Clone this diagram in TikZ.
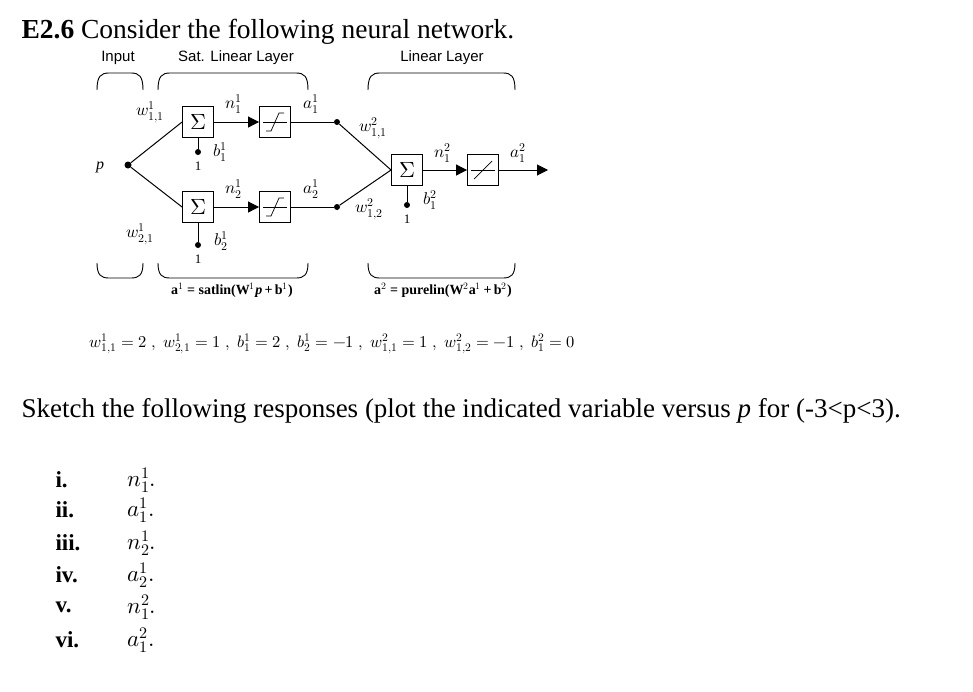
\documentclass[tikz,border=0pt]{standalone}
\usepackage{fontspec}
\setmainfont{Liberation Serif}
\setsansfont{Liberation Sans}
\usepackage{unicode-math}
\usetikzlibrary{arrows.meta}
\begin{document}
\begin{tikzpicture}[x=1pt,y=-1pt,
  box/.style={draw,line width=0.9pt,minimum size=31pt,inner sep=0pt},
  dot/.style={circle,fill,inner sep=0pt,minimum size=7pt},
  lbl/.style={font=\fontsize{17}{19}\selectfont,inner sep=0pt},
  wire/.style={line width=1pt},
  arr/.style={line width=1pt,-{Triangle[length=11pt,width=11pt]}},
  brace/.style={line width=0.9pt}]
\useasboundingbox (0,0) rectangle (973,691);
\node[anchor=west,font=\fontsize{27.5}{30}\selectfont] (title) at (18,32) {\textbf{E2.6} Consider the following neural network.};
\node[font=\sffamily\fontsize{15}{17}\selectfont] (tin) at (118,58) {Input};
\node[font=\sffamily\fontsize{15}{17}\selectfont] (tsat) at (236,58) {Sat. Linear Layer};
\node[font=\sffamily\fontsize{15}{17}\selectfont] (tlin) at (442,58) {Linear Layer};
% braces
\foreach \a/\b in {97/143,158/308,368/515}{
  \draw[brace] (\a,90) .. controls (\a,76) and (\a+4,73) .. (\a+12,73) -- (\b-12,73) .. controls (\b-4,73) and (\b,76) .. (\b,90);
  \draw[brace] (\a,263) .. controls (\a,275) and (\a+4,278) .. (\a+12,278) -- (\b-12,278) .. controls (\b-4,278) and (\b,275) .. (\b,263);
}
% nodes
\node[dot] (p) at (128,165) {};
\node[lbl,font=\itshape\fontsize{16}{18}\selectfont] (pl) at (100,167) {p};
\node[box] (s1) at (198,122) {\fontsize{22}{24}\selectfont$\Sigma$};
\node[box] (s2) at (198,207) {\fontsize{22}{24}\selectfont$\Sigma$};
\node[box] (f1) at (275,122) {};
\node[box] (f2) at (275,207) {};
\node[dot,minimum size=6pt] (a1) at (337,122) {};
\node[dot,minimum size=6pt] (a2) at (337,207) {};
\node[box] (s3) at (407,170) {\fontsize{22}{24}\selectfont$\Sigma$};
\node[box] (f3) at (483,170) {};
\coordinate (out) at (548,170);
\node[dot,minimum size=6pt] (b1) at (198,152) {};
\node[dot,minimum size=6pt] (b2) at (198,245) {};
\node[dot,minimum size=6pt] (b3) at (407,205) {};
\node[font=\fontsize{13}{15}\selectfont,inner sep=0pt] (o1) at (198,166) {1};
\node[font=\fontsize{13}{15}\selectfont,inner sep=0pt] (o2) at (198,259) {1};
\node[font=\fontsize{13}{15}\selectfont,inner sep=0pt] (o3) at (407,219) {1};
% transfer glyphs
\foreach \f in {f1,f2}{
  \draw[line width=0.7pt] ([xshift=-12pt]\f.center) -- ([xshift=12pt]\f.center);
  \draw[line width=0.7pt] ([xshift=-9pt,yshift=-9pt]\f.center) -- ([xshift=-4pt,yshift=-9pt]\f.center) -- ([xshift=4pt,yshift=9pt]\f.center) -- ([xshift=9pt,yshift=9pt]\f.center);
}
\draw[line width=0.7pt] ([xshift=-12pt]f3.center) -- ([xshift=12pt]f3.center);
\draw[line width=0.7pt] ([xshift=-9pt,yshift=-9pt]f3.center) -- ([xshift=9pt,yshift=9pt]f3.center);
% wires
\draw[wire] (p) -- (s1.west);
\draw[wire] (p) -- (s2.west);
\draw[arr] (s1) -- (f1);
\draw[arr] (s2) -- (f2);
\draw[wire] (f1) -- (a1);
\draw[wire] (f2) -- (a2);
\draw[wire] (a1) -- (s3.west);
\draw[wire] (a2) -- (s3.west);
\draw[arr] (s3) -- (f3);
\draw[arr] (f3) -- (out);
\draw[wire] (b1) -- (s1);
\draw[wire] (b2) -- (s2);
\draw[wire] (b3) -- (s3);
% labels
\node[lbl] (lw11) at (150,112) {$w^{1}_{1,1}$};
\node[lbl] (lw21) at (140,234) {$w^{1}_{2,1}$};
\node[lbl] (ln11) at (234,104) {$n^{1}_{1}$};
\node[lbl] (ln12) at (234,189) {$n^{1}_{2}$};
\node[lbl] (la11) at (311,104) {$a^{1}_{1}$};
\node[lbl] (la12) at (311,189) {$a^{1}_{2}$};
\node[lbl] (lb11) at (220,152) {$b^{1}_{1}$};
\node[lbl] (lb12) at (221,241) {$b^{1}_{2}$};
\node[lbl] (lw211) at (373,128) {$w^{2}_{1,1}$};
\node[lbl] (lw212) at (369,209) {$w^{2}_{1,2}$};
\node[lbl] (ln21) at (443,153) {$n^{2}_{1}$};
\node[lbl] (la21) at (518,153) {$a^{2}_{1}$};
\node[lbl] (lb21) at (430,200) {$b^{2}_{1}$};
\node[font=\bfseries\fontsize{14}{16}\selectfont] (e1) at (232,290) {a$^1$ = satlin(W$^1$\textit{p}\,+\,b$^1$)};
\node[font=\bfseries\fontsize{14}{16}\selectfont] (e2) at (443,290) {a$^2$ = purelin(W$^2$a$^1$\,+\,b$^2$)};
\node[anchor=west,font=\fontsize{16.5}{19}\selectfont] (params) at (86,344) {$w^1_{1,1} = 2\;,\; w^1_{2,1} = 1\;,\; b^1_1 = 2\;,\; b^1_2 = -1\;,\; w^2_{1,1} = 1\;,\; w^2_{1,2} = -1\;,\; b^2_1 = 0$};
\node[anchor=west,font=\fontsize{27}{30}\selectfont] (sk) at (18,411) {Sketch the following responses (plot the indicated variable versus \textit{p} for (-3<p<3).};
\foreach \r/\y/\v in {i./480/{n^1_1},ii./510/{a^1_1},iii./543/{n^1_2},iv./575/{a^1_2},v./607/{n^2_1},vi./640/{a^2_1}}{
  \node[anchor=west,font=\bfseries\fontsize{23}{26}\selectfont] at (52,\y) {\r};
  \node[anchor=west,font=\fontsize{23}{26}\selectfont] at (124,\y) {$\v.$};
}
\end{tikzpicture}
\end{document}
